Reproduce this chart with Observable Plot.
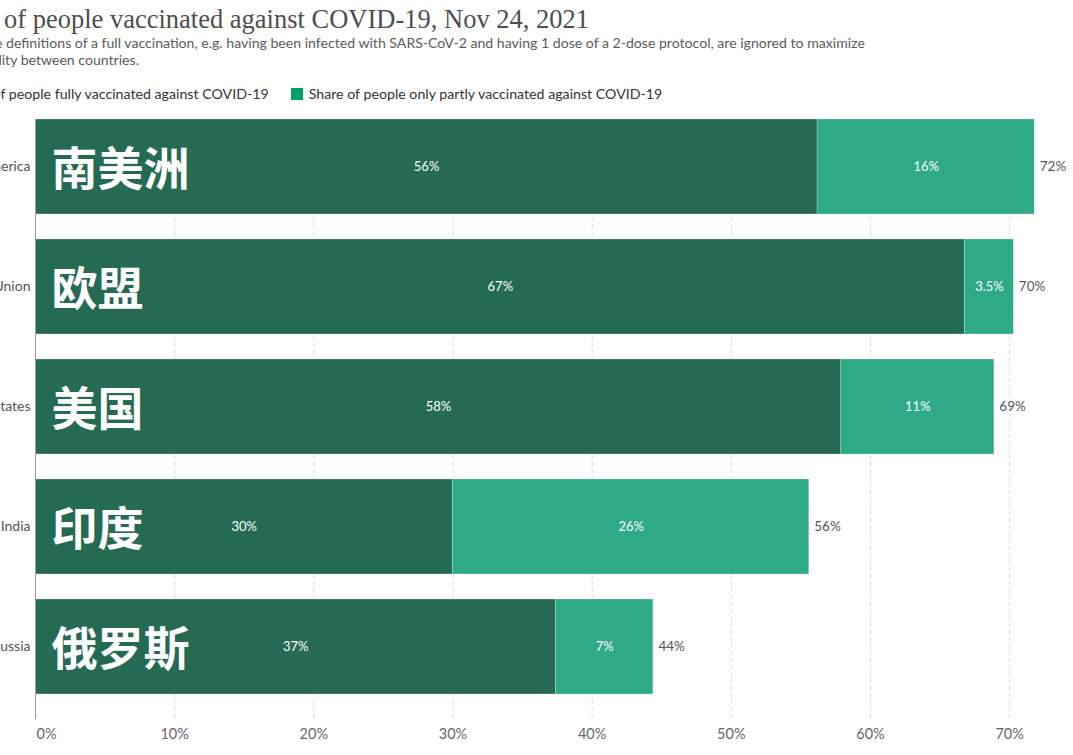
<!DOCTYPE html>
<html>
<head>
<meta charset="utf-8">
<script src="https://cdn.jsdelivr.net/npm/d3@7"></script>
<script src="https://cdn.jsdelivr.net/npm/@observablehq/plot@0.6"></script>
<style>
  html, body { margin: 0; padding: 0; background: white; overflow: hidden; width: 1073px; height: 755px; }
  #wrap { position: absolute; left: -61px; top: 0; width: 1134px; height: 755px; font-family: Lato, "Open Sans", sans-serif; }
  #title { position: absolute; left: -2px; top: 3px; font-family: "Liberation Serif", "DejaVu Serif", serif; font-size: 26.5px; color: #4e4e4e; white-space: nowrap; line-height: 32px; }
  #subtitle { position: absolute; left: -5px; top: 35px; font-size: 14.1px; line-height: 16.5px; color: #5b5b5b; white-space: nowrap; }
  #legend { position: absolute; left: -3px; top: 86px; font-size: 14.2px; color: #333; display: flex; align-items: center; white-space: nowrap; line-height: 16px; }
  .sw { display: inline-block; width: 12px; height: 12px; margin-right: 6px; }
  .item { display: flex; align-items: center; margin-right: 22px; }
  #chart { position: absolute; left: 0; top: 119px; }
</style>
</head>
<body>
<div id="wrap">
  <div id="title">Share of people vaccinated against COVID-19, Nov 24, 2021</div>
  <div id="subtitle">Alternative definitions of a full vaccination, e.g. having been infected with SARS-CoV-2 and having 1 dose of a 2-dose protocol, are ignored to maximize<br>comparability between countries.</div>
  <div id="legend"></div>
  <div id="chart"></div>
</div>
<script>
const countries = ["South America", "European Union", "United States", "India", "Russia"];
const chineseNames = ["南美洲", "欧盟", "美国", "印度", "俄罗斯"];
const fullyVaccinated = [56.2, 66.8, 57.9, 30.0, 37.4];
const partlyVaccinated = [15.6, 3.5, 11.0, 25.6, 7.0];
const seriesNames = ["Share of people fully vaccinated against COVID-19", "Share of people only partly vaccinated against COVID-19"];
const seriesColors = ["#256b54", "#2eaa86"];
const legendColors = ["#256b54", "#00a06f"];
const xTicks = [0, 10, 20, 30, 40, 50, 60, 70];

const fmt = v => d3.format(".2~r")(v) + "%";
const tickFmt = d => d + "%";

const segments = [];
countries.forEach((c, i) => {
  segments.push({country: c, series: seriesNames[0], x1: 0, x2: fullyVaccinated[i], value: fullyVaccinated[i]});
  segments.push({country: c, series: seriesNames[1], x1: fullyVaccinated[i], x2: fullyVaccinated[i] + partlyVaccinated[i], value: partlyVaccinated[i]});
});
const totals = countries.map((c, i) => ({country: c, total: fullyVaccinated[i] + partlyVaccinated[i]}));
const cnLabels = countries.map((c, i) => ({country: c, name: chineseNames[i]}));

// legend
const legend = document.getElementById("legend");
seriesNames.forEach((s, i) => {
  const it = document.createElement("span");
  it.className = "item";
  it.innerHTML = `<span class="sw" style="background:${legendColors[i]}"></span>${s}`;
  legend.appendChild(it);
});

const width = 1134, height = 636;
const chart = Plot.plot({
  width, height,
  marginLeft: 96, marginRight: 36, marginTop: 0, marginBottom: 36,
  style: {fontFamily: "Lato, 'Open Sans', sans-serif", background: "transparent", overflow: "visible"},
  x: {domain: [0, 72], ticks: xTicks, tickFormat: tickFmt, label: null},
  y: {domain: countries, paddingInner: 25 / 120, paddingOuter: 12.5 / 120, align: 0, label: null},
  color: {domain: seriesNames, range: seriesColors},
  marks: [
    Plot.ruleX(xTicks.slice(1), {stroke: "#d9d9d9", strokeDasharray: "4,3", strokeWidth: 1}),
    Plot.barX(segments, {y: "country", x1: "x1", x2: "x2", fill: "series", stroke: "#ffffff", strokeOpacity: 0.35, strokeWidth: 0.7}),
    Plot.ruleX([0], {stroke: "#9a9a9a", strokeWidth: 1}),
    Plot.text(segments, {y: "country", x: d => (d.x1 + d.x2) / 2, text: d => fmt(d.value), fill: "white", fontSize: 13}),
    Plot.text(totals, {y: "country", x: "total", text: d => fmt(d.total), textAnchor: "start", dx: 5, fill: "#555", fontSize: 13.5}),
    Plot.text(cnLabels, {y: "country", x: 0, text: "name", textAnchor: "start", dx: 16, dy: 3, fill: "white", fontSize: 46, fontWeight: "bold", fontFamily: "'Noto Sans CJK SC', sans-serif"}),
    Plot.axisY({tickSize: 0, tickPadding: 5, fontSize: 14, color: "#555", label: null}),
    Plot.axisX(xTicks.slice(1), {tickFormat: tickFmt, tickSize: 0, tickPadding: 9, fontSize: 14.5, color: "#666", label: null}),
    Plot.axisX([xTicks[0]], {tickFormat: tickFmt, tickSize: 0, tickPadding: 9, fontSize: 14.5, color: "#666", textAnchor: "start", dx: 1, label: null})
  ]
});
document.getElementById("chart").appendChild(chart);
</script>
</body>
</html>
